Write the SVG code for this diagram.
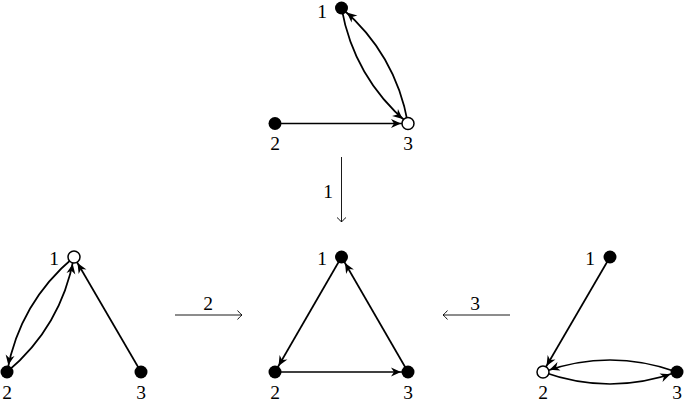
<svg xmlns="http://www.w3.org/2000/svg" width="685" height="401" viewBox="0 0 685 401">
<style>
.e{fill:none;stroke:#000;stroke-width:1.7;marker-end:url(#st)}
.m{fill:none;stroke:#000;stroke-width:0.9;marker-end:url(#to)}
.f{fill:#000}
.o{fill:#fff;stroke:#000;stroke-width:1.5}
text{font-family:"Liberation Serif","DejaVu Serif",serif;font-size:19.5px;text-anchor:middle;fill:#000}
</style>
<defs>
<marker id="st" markerUnits="userSpaceOnUse" viewBox="-12 -6 24 12" markerWidth="24" markerHeight="12" refX="7" refY="0" orient="auto" overflow="visible">
<path d="M0,0 L-10,-4.5 L-7,0 L-10,4.5 Z" fill="#000"/>
</marker>
<marker id="to" markerUnits="userSpaceOnUse" viewBox="-8 -6 10 12" markerWidth="10" markerHeight="12" refX="0" refY="0" orient="auto" overflow="visible">
<path d="M-4.5,-4.5 Q-1.5,-1 0,0 Q-1.5,1 -4.5,4.5" fill="none" stroke="#000" stroke-width="0.9"/>
</marker>
</defs>
<g id="connectors">
<path class="e" d="M275,123.5 L408,123.5"/>
<path class="e" d="M341.5,8 Q354,77.7 408,123.5"/>
<path class="e" d="M408,123.5 Q395.5,53.8 341.5,8"/>
<path class="e" d="M341.5,257 L275,372"/>
<path class="e" d="M275,372 L408,372"/>
<path class="e" d="M408,372 L341.5,257"/>
<path class="e" d="M74,257 Q19.8,302.4 7,372"/>
<path class="e" d="M7,372 Q61.2,326.6 74,257"/>
<path class="e" d="M141,372 L74,257"/>
<path class="e" d="M610,257 L543,372"/>
<path class="e" d="M677,372 Q610,348 543,372"/>
<path class="e" d="M543,372 Q610,396 677,372"/>
<path class="m" d="M341.5,157 L341.5,222"/>
<path class="m" d="M175,315 L242,315"/>
<path class="m" d="M510,315 L443,315"/>
<text x="328" y="198">1</text>
<text x="208" y="310">2</text>
<text x="475" y="310">3</text>
</g>
<g id="top-1"><circle class="f" cx="341.5" cy="8" r="6.5"/><text x="322" y="17.5">1</text></g>
<g id="top-2"><circle class="f" cx="275" cy="123.5" r="6.5"/><text x="275" y="150">2</text></g>
<g id="top-3"><circle class="o" cx="408" cy="123.5" r="6"/><text x="408" y="150">3</text></g>
<g id="center-1"><circle class="f" cx="341.5" cy="257" r="6.5"/><text x="322" y="264.5">1</text></g>
<g id="center-2"><circle class="f" cx="275" cy="372" r="6.5"/><text x="275" y="398.5">2</text></g>
<g id="center-3"><circle class="f" cx="408" cy="372" r="6.5"/><text x="408" y="398.5">3</text></g>
<g id="left-1"><circle class="o" cx="74" cy="257" r="6"/><text x="54" y="264.5">1</text></g>
<g id="left-2"><circle class="f" cx="7" cy="372" r="6.5"/><text x="7" y="398.5">2</text></g>
<g id="left-3"><circle class="f" cx="141" cy="372" r="6.5"/><text x="141" y="398.5">3</text></g>
<g id="right-1"><circle class="f" cx="610" cy="257" r="6.5"/><text x="590" y="264.5">1</text></g>
<g id="right-2"><circle class="o" cx="543" cy="372" r="6"/><text x="543" y="398.5">2</text></g>
<g id="right-3"><circle class="f" cx="677" cy="372" r="6.5"/><text x="677" y="398.5">3</text></g>
</svg>
